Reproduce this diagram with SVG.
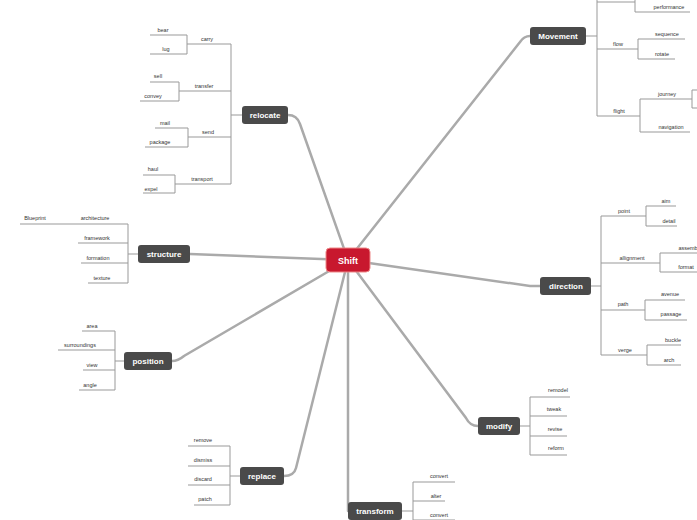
<svg xmlns="http://www.w3.org/2000/svg" width="697" height="520" viewBox="0 0 697 520">
<style>
.n rect{fill:#4a4a4a}
.n text{fill:#fff;font:bold 8px "Liberation Sans",Arial,sans-serif;text-anchor:middle}
.t{font:5.5px "Liberation Sans",Arial,sans-serif;fill:#333;text-anchor:middle}
.b{fill:none;stroke:#999;stroke-width:1}
.m{fill:none;stroke:#aaa;stroke-linecap:round}
</style>
<rect width="697" height="520" fill="#fff"/>
<g id="connectors">
<path class="m" stroke-width="2.5" d="M348,260 L300,124 Q297,115 288,115"/>
<path class="m" stroke-width="2.5" d="M348,260 L520,42 Q524,36 530,36"/>
<path class="m" stroke-width="2.5" d="M348,260 L190,254"/>
<path class="m" stroke-width="2.5" d="M348,260 L530,286 L540,286"/>
<path class="m" stroke-width="2.5" d="M348,260 L184,356 Q178,361 172,361"/>
<path class="m" stroke-width="2.5" d="M348,260 L466,418 Q470,426 478,426"/>
<path class="m" stroke-width="2.5" d="M348,260 L296,468 Q294,476 284,476"/>
<path class="m" stroke-width="2.5" d="M348,260 L348,511"/>
<g class="b">
<!-- relocate -->
<path d="M242,115H231M231,44V184M187,44H231M187,35V54M150,35H187M150,54H187M179,91H231M179,82V101M150,82H179M140,101H179M188,137H231M188,128V147M155,128H188M145,147H188M175,184H231M175,175V193M143,175H175M143,193H175"/>
<!-- movement -->
<path d="M586,36H597M597,0V116M597,2H635M635,0V12M635,12H690M597,49H638M638,39V59M638,39H685M638,59H675M597,116H640M640,99V132M640,99H692M692,90V108M692,90H697M692,108H697M640,132H690"/>
<!-- direction -->
<path d="M591,286H601M601,216V355M601,216H646M646,206V226M646,206H676M646,226H677M601,263H660M660,253V272M660,253H697M660,272H697M601,310H645M645,300V320M645,300H685M645,320H687M601,355H647M647,345V365M647,345H681M647,365H681"/>
<!-- structure -->
<path d="M138,254H128M128,224V283M20,224H128M78,243H128M81,263H128M88,283H128"/>
<!-- position -->
<path d="M124,361H115M115,331V390M82,331H115M58,350H115M83,370H115M79,390H115"/>
<!-- modify -->
<path d="M520,426H530M530,397V455M530,397H570M530,416H567M530,436H567M530,455H567"/>
<!-- replace -->
<path d="M240,476H230M230,446V505M188,446H230M188,466H230M188,485H230M194,505H230"/>
<!-- transform -->
<path d="M402,511H413M413,482V520M413,482H455M413,501H445M413,520H455"/>
</g>
</g>
<g class="t">
<text x="207" y="41">carry</text><text x="163" y="32">bear</text><text x="166" y="51">lug</text>
<text x="204" y="88">transfer</text><text x="158" y="78">sell</text><text x="153" y="98">convey</text>
<text x="208" y="134">send</text><text x="165" y="125">mail</text><text x="160" y="144">package</text>
<text x="202" y="181">transport</text><text x="153" y="171">haul</text><text x="151" y="191">expel</text>
<text x="669" y="9">performance</text>
<text x="618" y="46">flow</text><text x="667" y="36">sequence</text><text x="662" y="56">rotate</text>
<text x="619" y="113">flight</text><text x="667" y="96">journey</text><text x="671" y="129">navigation</text>
<text x="624" y="213">point</text><text x="666" y="203">aim</text><text x="669" y="223">detail</text>
<text x="632" y="260">allignment</text><text x="690" y="250">assembly</text><text x="686" y="269">format</text>
<text x="623" y="306">path</text><text x="670" y="296">avenue</text><text x="671" y="316">passage</text>
<text x="625" y="352">verge</text><text x="673" y="342">buckle</text><text x="669" y="362">arch</text>
<text x="35" y="220">Blueprint</text><text x="95" y="220">architecture</text>
<text x="97" y="240">framework</text><text x="98" y="260">formation</text><text x="102" y="280">texture</text>
<text x="92" y="328">area</text><text x="80" y="347">surroundings</text><text x="92" y="367">view</text><text x="90" y="387">angle</text>
<text x="558" y="392">remodel</text><text x="554" y="411">tweak</text><text x="555" y="431">revise</text><text x="556" y="450">reform</text>
<text x="203" y="442">remove</text><text x="203" y="462">dismiss</text><text x="203" y="481">discard</text><text x="205" y="501">patch</text>
<text x="439" y="478">convert</text><text x="436" y="498">alter</text><text x="439" y="517">convert</text>
</g>
<g id="shift"><rect x="326" y="248" width="44" height="24" rx="4" fill="#c8182e" stroke="#e88" stroke-width="1"/><text x="348" y="264" fill="#fff" font-family="Liberation Sans,Arial,sans-serif" font-weight="bold" font-size="9" text-anchor="middle">Shift</text></g>
<g id="relocate" class="n"><rect x="242" y="106" width="46" height="18" rx="3"/><text x="265" y="118">relocate</text></g>
<g id="movement" class="n"><rect x="530" y="27" width="56" height="18" rx="3"/><text x="558" y="39">Movement</text></g>
<g id="structure" class="n"><rect x="138" y="245" width="52" height="18" rx="3"/><text x="164" y="257">structure</text></g>
<g id="direction" class="n"><rect x="540" y="277" width="51" height="18" rx="3"/><text x="566" y="289">direction</text></g>
<g id="position" class="n"><rect x="124" y="352" width="48" height="18" rx="3"/><text x="148" y="364">position</text></g>
<g id="modify" class="n"><rect x="478" y="417" width="42" height="18" rx="3"/><text x="499" y="429">modify</text></g>
<g id="replace" class="n"><rect x="240" y="467" width="44" height="18" rx="3"/><text x="262" y="479">replace</text></g>
<g id="transform" class="n"><rect x="348" y="502" width="54" height="18" rx="3"/><text x="375" y="514">transform</text></g>
</svg>
